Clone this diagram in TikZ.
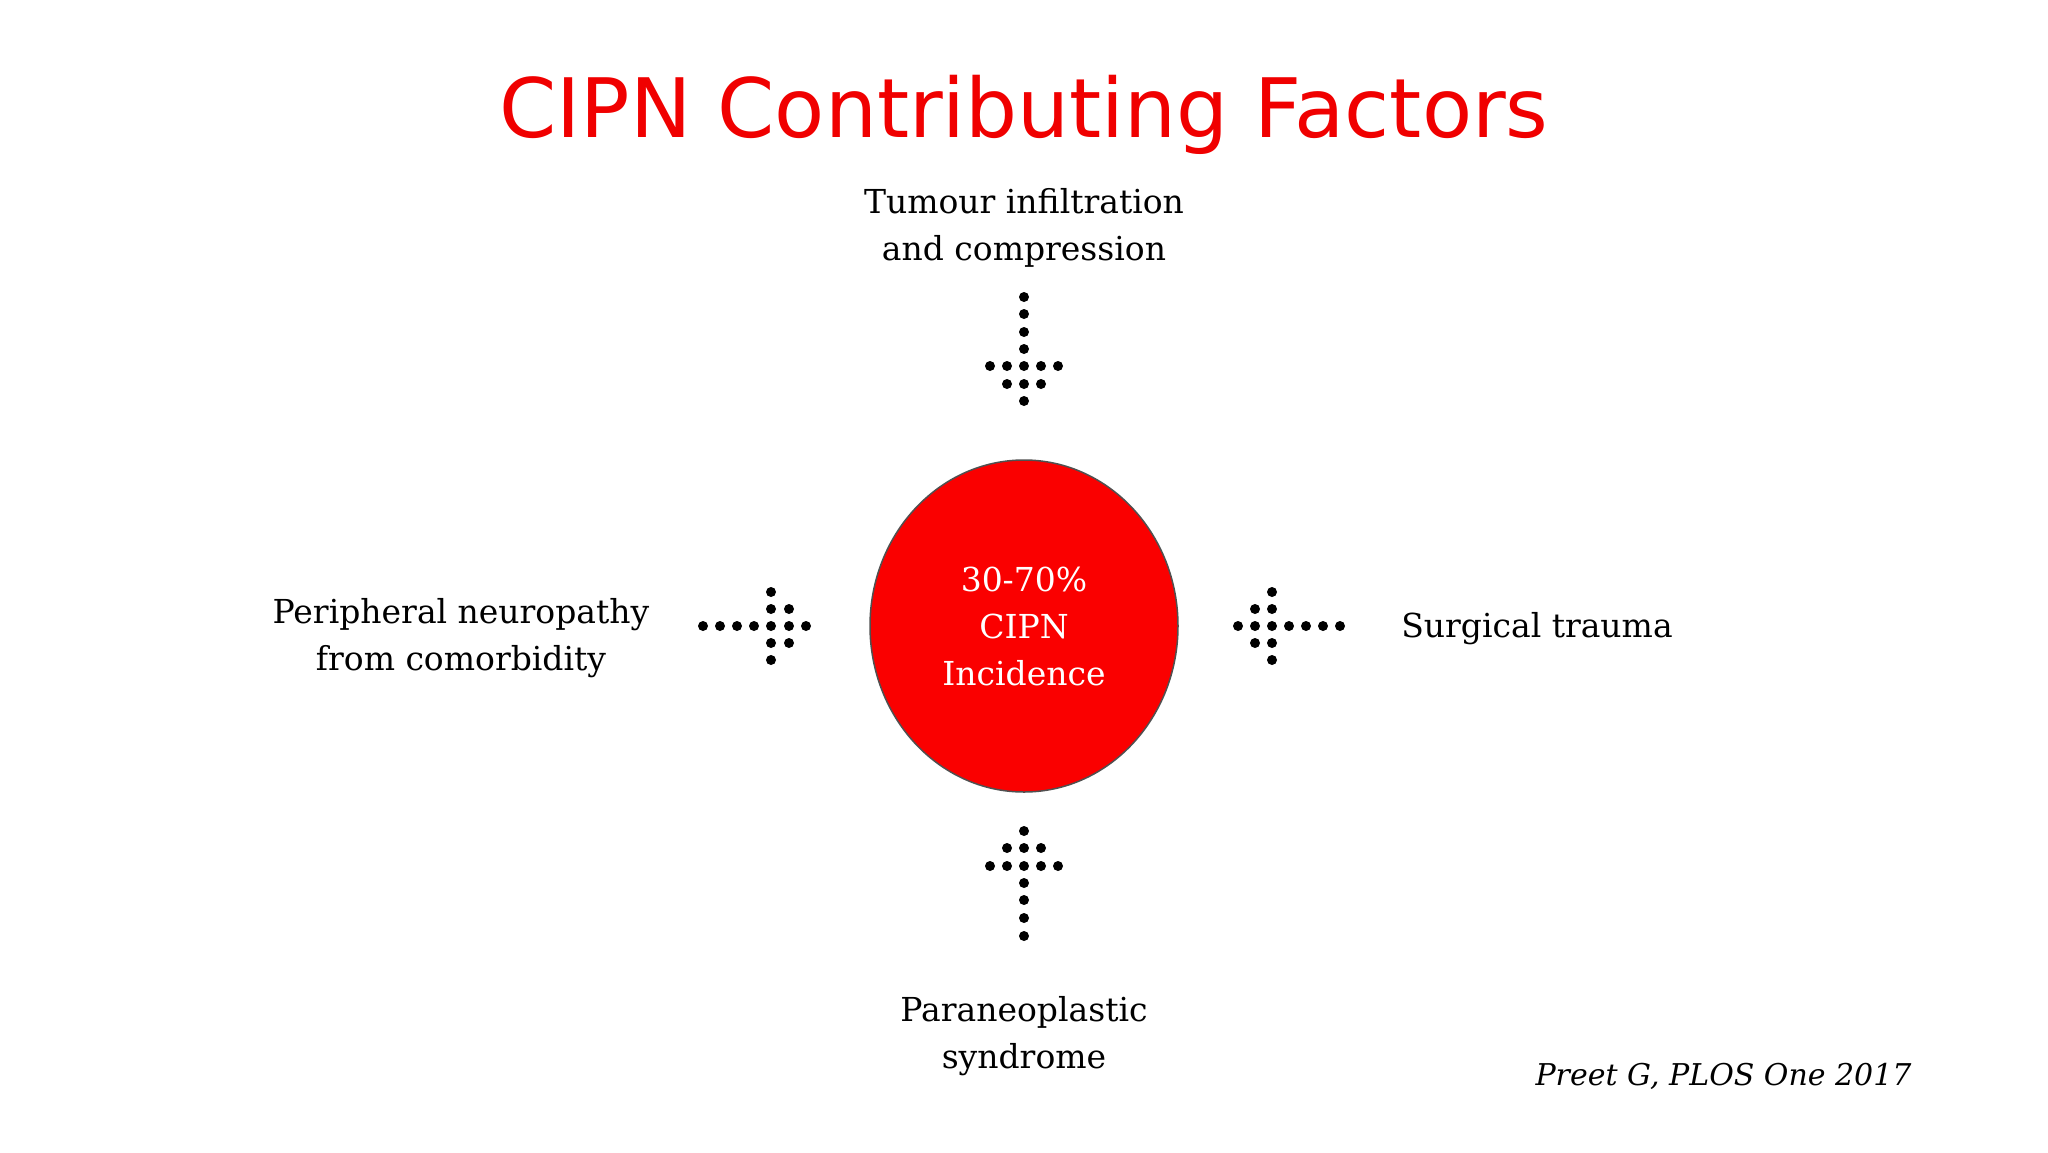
\documentclass[tikz,border=0pt]{standalone}
\usepackage{fontspec}
\usetikzlibrary{shapes.geometric}
\setmainfont{DejaVu Serif}
\newfontfamily\titlefont{DejaVu Sans}
\begin{document}
\begin{tikzpicture}[x=1pt,y=-1pt,
  lbl/.style={font=\fontsize{33}{47}\selectfont, align=center, text=black},
  dot/.style={circle, fill=black, inner sep=0pt, minimum size=10pt}]
\useasboundingbox (0,0) rectangle (2048,1152);
\fill[white] (0,0) rectangle (2048,1152);
\node[font=\titlefont\fontsize{82}{90}\selectfont, text={rgb,255:red,240;green,0;blue,0}] (title) at (1024,115) {CIPN Contributing Factors};
\node[ellipse, draw={rgb,255:red,80;green,80;blue,80}, line width=1.5pt, fill={rgb,255:red,250;green,0;blue,0}, minimum width=308pt, minimum height=332pt, inner sep=0pt, align=center, text=white, font=\fontsize{33}{47}\selectfont] (c) at (1024,626) {30-70\%\\CIPN\\Incidence};
\node[lbl] (top) at (1024,228) {Tumour infiltration\\and compression};
\node[lbl] (bot) at (1024,1036) {Paraneoplastic\\syndrome};
\node[lbl] (left) at (461,638) {Peripheral neuropathy\\from comorbidity};
\node[lbl] (right) at (1537,629) {Surgical trauma};
\node[font=\itshape\fontsize{30}{36}\selectfont, anchor=east] (cite) at (1915,1076) {Preet G, PLOS One 2017};
% top arrow (pointing down)
\foreach \y in {297,314,332,349} \node[dot] at (1024,\y) {};
\foreach \x in {990,1007,1024,1041,1058} \node[dot] at (\x,366) {};
\foreach \x in {1007,1024,1041} \node[dot] at (\x,384) {};
\node[dot] at (1024,401) {};
% bottom arrow (pointing up)
\node[dot] at (1024,831) {};
\foreach \x in {1007,1024,1041} \node[dot] at (\x,848) {};
\foreach \x in {990,1007,1024,1041,1058} \node[dot] at (\x,866) {};
\foreach \y in {883,900,918,936} \node[dot] at (1024,\y) {};
% left arrow (pointing right)
\foreach \x in {703,720,737,754} \node[dot] at (\x,626) {};
\foreach \y in {592,609,626,643,660} \node[dot] at (771,\y) {};
\foreach \y in {609,626,643} \node[dot] at (789,\y) {};
\node[dot] at (806,626) {};
% right arrow (pointing left)
\node[dot] at (1238,626) {};
\foreach \y in {609,626,643} \node[dot] at (1255,\y) {};
\foreach \y in {592,609,626,643,660} \node[dot] at (1272,\y) {};
\foreach \x in {1289,1306,1323,1340} \node[dot] at (\x,626) {};
\end{tikzpicture}
\end{document}
